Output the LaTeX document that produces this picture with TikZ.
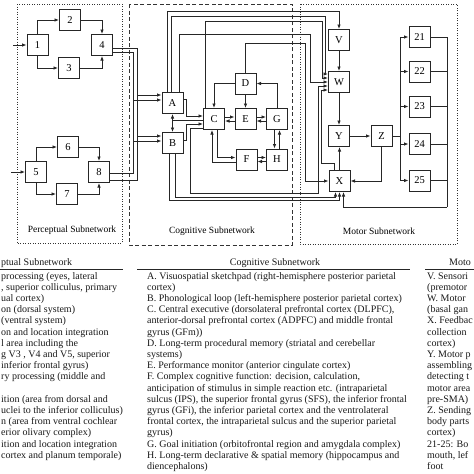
\documentclass[tikz,border=0pt]{standalone}
\usepackage{fontspec}
\setmainfont{Liberation Serif}
\usetikzlibrary{arrows.meta,calc}
\begin{document}
\begin{tikzpicture}[x=1pt,y=-1pt,
  ln/.style={line width=0.8pt, draw=black!85},
  ar/.style={ln, -{Latex[length=4.5pt,width=3.6pt]}},
  bx/.style={draw=black!85, line width=1pt, fill=white, minimum width=21pt, minimum height=21pt, inner sep=0pt, font=\fontsize{10.5}{12}\selectfont},
  dotbox/.style={line width=0.9pt, dash pattern=on 0.9pt off 1.6pt, draw=black!80},
  dashbox/.style={line width=0.9pt, dash pattern=on 4pt off 2.5pt, draw=black!80},
  lab/.style={font=\fontsize{9.5}{11}\selectfont, inner sep=0pt},
  txt/.style={anchor=base west, inner sep=0pt, font=\fontsize{10}{11.2}\selectfont, text=black!90},
  hd/.style={anchor=base, inner sep=0pt, font=\fontsize{10}{11.2}\selectfont, text=black!90},
  rl/.style={line width=0.8pt, draw=black!85}
]
\useasboundingbox (0,0) rectangle (474,474);
\clip (0,0) rectangle (474,474);
\fill[white] (0,0) rectangle (474,474);

% subnetwork frames
\draw[dotbox] (17,4) rectangle (122,243);
\draw[dashbox] (129,4) rectangle (292,245);
\draw[dotbox] (300,4) rectangle (457,244);
\node[lab] (lp) at (72,230) {Perceptual Subnetwork};
\node[lab] (lc) at (212,231) {Cognitive Subnetwork};
\node[lab] (lm) at (379,231) {Motor Subnetwork};

% perceptual nodes
\node[bx] (p1) at (37.5,45) {1};
\node[bx] (p2) at (70,20) {2};
\node[bx] (p3) at (69,68) {3};
\node[bx] (p4) at (102,45) {4};
\node[bx] (p5) at (36,172) {5};
\node[bx] (p6) at (68,147) {6};
\node[bx] (p7) at (67,194) {7};
\node[bx] (p8) at (99,172) {8};

% cognitive nodes
\node[bx] (cA) at (172.5,103) {A};
\node[bx] (cB) at (172.5,143) {B};
\node[bx] (cC) at (214,119) {C};
\node[bx] (cD) at (245.5,83.5) {D};
\node[bx] (cE) at (245.5,119) {E};
\node[bx] (cG) at (277,119) {G};
\node[bx] (cF) at (246.5,159.5) {F};
\node[bx] (cH) at (277,159.5) {H};

% motor nodes
\node[bx] (mV) at (339,40) {V};
\node[bx] (mW) at (339,82) {W};
\node[bx] (mY) at (339,136) {Y};
\node[bx] (mX) at (339.5,181) {X};
\node[bx] (mZ) at (381.5,136) {Z};
\node[bx] (m21) at (419.5,37) {21};
\node[bx] (m22) at (419.5,71.5) {22};
\node[bx] (m23) at (419.5,106.5) {23};
\node[bx] (m24) at (419.5,144) {24};
\node[bx] (m25) at (419.5,180.5) {25};

% perceptual connectors
\coordinate (in1) at (13,45);
\coordinate (in5) at (11,172);
\draw[ar] (in1) -- (p1);
\draw[ar] (in5) -- (p5);
\draw[ar] (p1.north) |- (p2.west);
\draw[ar] (p1.south) |- (p3.west);
\draw[ar] (p2.east) -| (p4.north);
\draw[ar] (p3.east) -| (p4.south);
\draw[ar] (p5.north) |- (p6.west);
\draw[ar] (p5.south) |- (p7.west);
\draw[ar] (p6.east) -| (p8.north);
\draw[ar] (p7.east) -| (p8.south);

% buses to A and B
\draw[ln] ([yshift=-3pt]p4.east) -| (137,180) -- ([yshift=-8pt]p8.east);
\draw[ln] ([yshift=-7pt]p4.east) -| (133,173) -- ([yshift=-1pt]p8.east);
\draw[ar] (137,95) -- ([yshift=8pt]cA.west);
\draw[ar] (133,100) -- ([yshift=3pt]cA.west);
\draw[ar] (137,136) -- ([yshift=7pt]cB.west);
\draw[ar] (133,141) -- ([yshift=2pt]cB.west);

% cognitive internal
\draw[ar] ([yshift=4pt]cA.east) -- (186,99) |- ([yshift=3pt]cC.west);
\draw[ar] ([yshift=-1pt]cC.west) -| (cA.south);
\draw[ar] (172.5,120) -- (cB.north);
\draw[ar] ([yshift=3pt]cB.east) -- (186,140) |- ([yshift=-5pt]cC.west);
\draw[ar] (cD.west) -| (cC.north);
\draw[ar] (cD.south) -- (cE.north);
\draw[ar] (cG.north) |- (cD.east);
\draw[ar] ([yshift=2pt]cC.east) -- ([yshift=2pt]cE.west);
\draw[ar] ([yshift=-2pt]cE.west) -- ([yshift=-2pt]cC.east);
\draw[ar] ([yshift=2pt]cE.east) -- ([yshift=2pt]cG.west);
\draw[ar] ([yshift=-2pt]cG.west) -- ([yshift=-2pt]cE.east);
\draw[ar] ([xshift=-2.5pt]cG.south) -- ([xshift=-2.5pt]cH.north);
\draw[ar] ([xshift=2.5pt]cH.north) -- ([xshift=2.5pt]cG.south);
\draw[ar] ([yshift=2pt]cF.east) -- ([yshift=2pt]cH.west);
\draw[ar] ([yshift=-2pt]cH.west) -- ([yshift=-2pt]cF.east);
\draw[ar] ([yshift=-3pt]cF.west) -| ([xshift=-2pt]cC.south);
\draw[ar] ([xshift=3pt]cC.south) |- ([yshift=2pt]cF.west);

% top bus to motor
\draw[ar] ([xshift=-5.5pt]cA.north) |- (339,11) -- (mV.north);
\draw[ar] ([xshift=-1.5pt]cA.north) |- (325,16) |- ([yshift=8pt]mW.west);
\draw[ar] ([xshift=6.5pt]cA.north) |- (310,34) |- (mW.west);
\draw[ar] ([xshift=-9pt]cC.north) |- (322,21) |- ([yshift=4pt]mW.west);
\draw[ar] (cD.north) |- (305,43) |- (mX.west);

% bottom bus to motor
\draw[ar] ([yshift=-9pt]cC.west) -- (190,128) |- (318,193) |- ([yshift=-4pt]mW.west);
\draw[ar] ([xshift=2.5pt]cB.south) |- (335.5,197) -- ([xshift=-4pt]mX.south);
\draw[ar] ([xshift=-3.5pt]cB.south) |- (339.5,200) -- (mX.south);

% motor internal
\draw[ar] (mV.south) -- (mW.north);
\draw[ar] (mW.south) -- (mY.north);
\draw[ar] (mX.north) -- (mX.north |- mY.south);
\draw[ar] (mY.east) -- (mZ.west);
\draw[ar] (mZ.south) |- (mX.east);
\draw[ar] ([xshift=-5pt]mX.north) |- (321,163) |- ([yshift=-8pt]mW.west);

\coordinate (zb) at (400,0);
\coordinate (rb) at (447,0);
\draw[ln] (mZ.east) -- (mZ.east -| zb);
\draw[ln] (zb |- m21.west) -- (zb |- m25.west);
\foreach \k in {21,...,25}{
  \draw[ar] (zb |- m\k.west) -- (m\k.west);
  \draw[ln] (m\k.east) -- (rb |- m\k.east);
}
\draw[ln] (rb |- m21.east) -- (447,207);
\draw[ar] (447,207) -| ([xshift=4pt]mX.south);

% ---------- text table ----------
\node[txt] (hp) at (1,265) {ptual Subnetwork};
\node[hd] (hc) at (275,265) {Cognitive Subnetwork};
\node[txt] (hm) at (449,265) {Moto};
\draw[rl] (0,269) -- (123,269);
\draw[rl] (137,269) -- (410,269);
\draw[rl] (425,269) -- (474,269);

\foreach \t [count=\i from 0] in {
 {processing (eyes, lateral},
 {, superior colliculus, primary},
 {ual cortex)},
 {on (dorsal system)},
 {(ventral system)},
 {on and location integration},
 {l area including the},
 {g V3 , V4 and V5, superior},
 { inferior frontal gyrus)},
 {ry processing (middle and},
 {},
 {ition (area from dorsal and},
 {uclei to the inferior colliculus)},
 {n (area from ventral cochlear},
 {erior olivary complex)},
 {ition and location integration},
 {cortex and planum temporale)}}
 { \node[txt] (tp\i) at (1,{279+11.2*\i}) {\t}; }

\foreach \t [count=\i from 0] in {
 {A. Visuospatial sketchpad (right-hemisphere posterior parietal},
 {cortex)},
 {B. Phonological loop (left-hemisphere posterior parietal cortex)},
 {C. Central executive (dorsolateral prefrontal cortex (DLPFC),},
 {anterior-dorsal prefrontal cortex (ADPFC) and middle frontal},
 {gyrus (GFm))},
 {D. Long-term procedural memory (striatal and cerebellar},
 {systems)},
 {E. Performance monitor (anterior cingulate cortex)},
 {F. Complex cognitive function: decision, calculation,},
 {anticipation of stimulus in simple reaction etc. (intraparietal},
 {sulcus (IPS), the superior frontal gyrus (SFS), the inferior frontal},
 {gyrus (GFi), the inferior parietal cortex and the ventrolateral},
 {frontal cortex, the intraparietal sulcus and the superior parietal},
 {gyrus)},
 {G. Goal initiation (orbitofrontal region and amygdala complex)},
 {H. Long-term declarative \& spatial memory (hippocampus and},
 {diencephalons)}}
 { \node[txt] (tc\i) at (147,{279+11.2*\i}) {\t}; }

\foreach \t [count=\i from 0] in {
 {V. Sensori},
 {(premotor},
 {W. Motor},
 {(basal gan},
 {X. Feedbac},
 {collection},
 {cortex)},
 {Y. Motor p},
 {assembling},
 {detecting t},
 {motor area},
 {pre-SMA)},
 {Z. Sending},
 {body parts},
 {cortex)},
 {21-25: Bo},
 {mouth, lef},
 {foot}}
 { \node[txt] (tm\i) at (427,{279+11.2*\i}) {\t}; }
\end{tikzpicture}
\end{document}
